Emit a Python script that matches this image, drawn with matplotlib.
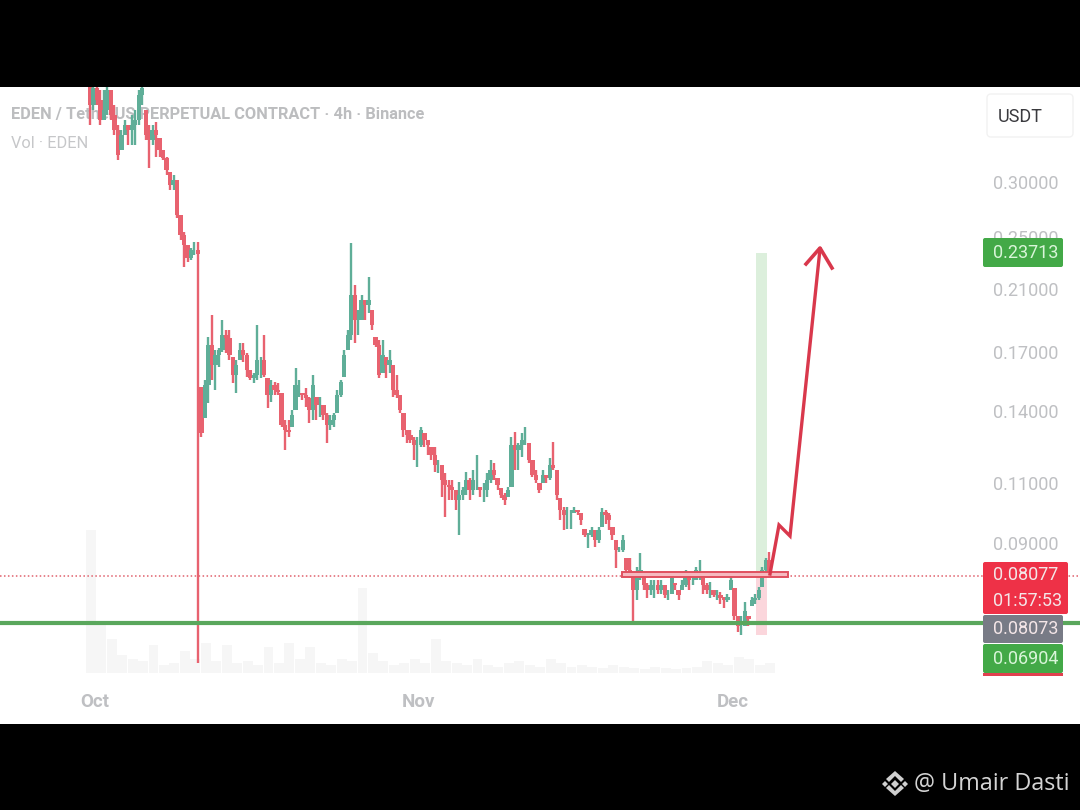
#!/usr/bin/python3

import numpy as np
import matplotlib

matplotlib.use('Agg')

import matplotlib.pyplot as plt
from matplotlib.patches import Rectangle, FancyBboxPatch, Polygon

# 8 hour candles, first candle at day -0.48 (0 = 1 Oct)
highs = [.4145, .4145, .4145, .4077, .4077, .4145, .4077, .3878, .3627, .3567, .3688, .3627, .3751, .3814, .4077, .4145,
         .3814, .3627, .3627, .3664, .3473, .3337, .3260, .3101, .3070, .3020, .2687, .2539, .2431, .2407, .2455, .2455,
         .1514, .1549, .1788, .1925, .1712, .1723, .1893, .1830, .1830, .1672, .1656, .1752, .1752, .1695, .1602, .1586,
         .1861, .1672, .1800, .1560, .1549, .1539, .1534, .1484, .1356, .1356, .1402, .1613, .1549, .1484, .1508, .1464,
         .1575, .1464, .1464, .1425, .1388, .1379, .1388, .1498, .1549, .1712, .1830, .2447, .2127, .1957, .2058, .2023,
         .2185, .1957, .1788, .1770, .1770, .1672, .1712, .1629, .1575, .1474, .1388, .1311, .1311, .1281, .1281, .1325,
         .1298, .1268, .1240, .1240, .1187, .1167, .1136, .1110, .1110, .1074, .1103, .1085, .1140, .1117, .1148, .1207,
         .1085, .1099, .1136, .1187, .1175, .1117, .1081, .1063, .1085, .1281, .1302, .1256, .1298, .1325, .1256, .1187,
         .1148, .1099, .1148, .1129, .1195, .1260, .1148, .1045, .1014, .1014, .1004, .1014, .1004, .0994, .0945, .0930,
         .0949, .0939, .0949, .1011, .1004, .0994, .0949, .0909, .0888, .0924, .0858, .0858, .0814, .0830, .0870, .0814,
         .0787, .0795, .0795, .0795, .0795, .0782, .0769, .0814, .0787, .0769, .0795, .0822, .0809, .0809, .0830, .0850,
         .0801, .0787, .0790, .0769, .0769, .0764, .0751, .0761, .0817, .0774, .0707, .0707, .0739, .0707, .0751, .0761,
         .0777, .0830, .0858, .0873]
lows = [.3627, .3814, .3878, .3627, .3688, .3751, .3688, .3508, .3228, .3337, .3508, .3393, .3393, .3393, .3627, .3878,
        .3450, .3143, .3393, .3260, .3260, .3228, .3070, .2921, .2921, .2660, .2472, .2259, .2296, .2312, .2351, .0604,
        .1281, .1365, .1435, .1549, .1498, .1618, .1701, .1695, .1656, .1534, .1484, .1656, .1645, .1565, .1549, .1534,
        .1549, .1560, .1565, .1411, .1439, .1474, .1474, .1325, .1227, .1281, .1325, .1402, .1464, .1449, .1416, .1342,
        .1356, .1356, .1370, .1356, .1256, .1311, .1325, .1388, .1464, .1565, .1712, .1770, .1752, .1800, .1893, .1893,
        .1938, .1830, .1729, .1560, .1586, .1560, .1586, .1464, .1459, .1388, .1281, .1256, .1256, .1187, .1159, .1240,
        .1240, .1207, .1187, .1140, .1136, .1049, .0981, .1038, .1038, .1004, .0924, .1038, .1056, .1038, .1056, .1074,
        .1049, .1031, .1049, .1099, .1110, .1074, .1045, .1021, .1049, .1085, .1148, .1148, .1199, .1248, .1175, .1121,
        .1099, .1063, .1099, .1099, .1110, .1148, .1038, .0971, .0939, .0945, .0945, .0994, .0988, .0955, .0918, .0885,
        .0918, .0888, .0900, .0949, .0961, .0939, .0909, .0828, .0873, .0873, .0809, .0801, .0691, .0744, .0795, .0769,
        .0749, .0756, .0749, .0761, .0761, .0749, .0744, .0761, .0769, .0744, .0769, .0777, .0769, .0782, .0795, .0795,
        .0761, .0761, .0749, .0751, .0744, .0736, .0726, .0739, .0769, .0696, .0670, .0662, .0684, .0684, .0731, .0736,
        .0744, .0777, .0817, .0809]
closes = [.3878, .4100, .3943, .3688, .3814, .4077, .3751, .3567, .3282, .3508, .3627, .3567, .3627, .3688, .4010, .4100,
          .3508, .3450, .3567, .3508, .3337, .3250, .3122, .2970, .3020, .2687, .2514, .2431, .2327, .2391, .2391, .2360,
          .1300, .1524, .1741, .1629, .1684, .1712, .1800, .1782, .1684, .1575, .1629, .1712, .1684, .1602, .1560, .1575,
          .1656, .1656, .1575, .1474, .1524, .1498, .1488, .1333, .1311, .1302, .1379, .1524, .1524, .1474, .1459, .1402,
          .1524, .1425, .1425, .1379, .1333, .1356, .1379, .1474, .1539, .1684, .1800, .2058, .1893, .1893, .2023, .1990,
          .2023, .1861, .1741, .1575, .1684, .1629, .1656, .1498, .1474, .1402, .1311, .1290, .1268, .1248, .1248, .1311,
          .1268, .1248, .1207, .1167, .1167, .1110, .1092, .1085, .1074, .1038, .1056, .1074, .1110, .1074, .1110, .1110,
          .1074, .1074, .1110, .1148, .1129, .1092, .1056, .1038, .1074, .1248, .1227, .1248, .1268, .1268, .1187, .1129,
          .1110, .1074, .1129, .1117, .1167, .1156, .1056, .1004, .0988, .0988, .0988, .1004, .0997, .0971, .0924, .0924,
          .0939, .0909, .0939, .0997, .0988, .0971, .0924, .0879, .0879, .0909, .0822, .0817, .0769, .0809, .0822, .0782,
          .0769, .0782, .0782, .0769, .0782, .0756, .0756, .0801, .0782, .0756, .0782, .0809, .0795, .0795, .0822, .0822,
          .0782, .0769, .0769, .0756, .0756, .0749, .0744, .0751, .0795, .0707, .0684, .0684, .0719, .0700, .0744, .0749,
          .0769, .0822, .0850, .0808]

# one volume value per day, arbitrary units, very faint in the picture
volume = [143, 48, 34, 18, 14, 12, 28, 8, 10, 22, 14, 30, 12, 28, 10, 12, 8, 26, 10, 30, 14, 26, 10, 8, 14, 12, 85, 20, 12, 8, 10,
          14, 10, 34, 12, 10, 8, 14, 8, 6, 10, 12, 8, 6, 14, 10, 6, 8, 6, 5, 8, 6, 5, 4, 6, 5, 4, 5, 6, 12, 10, 8, 16, 14, 8, 10]

price_ticks = [0.30, 0.25, 0.21, 0.17, 0.14, 0.11, 0.09]
month_names = ['Oct', 'Nov', 'Dec']
month_days = [0, 31, 61]
last_price = 0.08077
support = 0.06904
target = 0.23713
stop = 0.0662
box_start, box_end = 63.25, 64.3

W, H = 1080, 810
TOP, BOTTOM = 87, 724

green = '#5fae98'
red = '#e8626f'
label_grey = '#bfc0c3'

fig = plt.figure(figsize=(W / 100, H / 100), dpi=100, facecolor='black')
rect = [0, 1 - BOTTOM / H, 1, (BOTTOM - TOP) / H]

# volume first, underneath everything, its patch gives the white chart area
vol_ax = fig.add_axes(rect, facecolor='white', zorder=0)
vol_ax.set_ylim(-51, 586)
vol_ax.set_xlim((0 - 95) / 10.45, (W - 95) / 10.45)
vol_ax.bar(np.arange(len(volume)) - 0.4, volume, width=0.95, color='#f6f6f6')
vol_ax.set_xticks([])
vol_ax.set_yticks([])
for s in vol_ax.spines.values():
    s.set_visible(False)

ax = fig.add_axes(rect, facecolor='none', zorder=1)
ax.set_yscale('log')
ax.set_xlim((0 - 95) / 10.45, (W - 95) / 10.45)
ax.set_ylim(0.3 * np.exp(-(BOTTOM - 182) / 300.0), 0.3 * np.exp((182 - TOP) / 300.0))

# overlay in pixel coordinates for the drawing tools and the price flags
ov = fig.add_axes([0, 0, 1, 1], facecolor='none', zorder=2)
ov.set_xlim(0, W)
ov.set_ylim(H, 0)
ov.axis('off')

# long and short zones of the position tool
ax.add_patch(Rectangle((box_start, last_price), box_end - box_start, target - last_price, fc='#dcefdc', ec='none', zorder=1))
ax.add_patch(Rectangle((box_start, stop), box_end - box_start, last_price - stop, fc='#fbd6dc', ec='none', zorder=1))

# header goes under the candles
ax.text(11, 115, 'EDEN / TetherUS PERPETUAL CONTRACT · 4h · Binance', color='#bcbdbf', fontsize=11.8,
        family='Roboto', fontweight='bold', va='center', ha='left', zorder=2, transform=ov.transData)
ax.text(11, 144, 'Vol · EDEN', color='#c6c7c9', fontsize=11.8, family='Roboto',
        va='center', ha='left', zorder=2, transform=ov.transData)

days = -0.48 + np.arange(len(closes)) / 3.0
for i in range(len(closes)):
    op = closes[i - 1] if i > 0 else highs[0]
    col = green if closes[i] >= op else red
    ax.vlines(days[i], lows[i], highs[i], color=col, lw=1.7, zorder=3)
    lo = max(min(op, closes[i]), lows[i])
    hi = min(max(op, closes[i]), highs[i])
    ax.bar(days[i], hi - lo, bottom=lo, width=0.42, color=col, linewidth=0, zorder=3)

ax.axhline(last_price, color='#e0606c', lw=1.1, ls=(0, (1, 1.6)), zorder=2)
ax.axhline(support, color='#5aa75c', lw=3, zorder=4)

ax.yaxis.tick_right()
ax.set_yticks(price_ticks)
ax.set_yticklabels(['%.5f' % p for p in price_ticks])
ax.minorticks_off()
ax.tick_params(axis='y', length=0, pad=-63, labelsize=13, labelcolor=label_grey)
ax.set_xticks(month_days)
ax.set_xticklabels(month_names, fontweight='bold')
ax.tick_params(axis='x', length=0, pad=-22, labelsize=13.5, labelcolor=label_grey)
for lab in ax.get_yticklabels() + ax.get_xticklabels():
    lab.set_fontfamily('Roboto')
for s in ax.spines.values():
    s.set_visible(False)

ov.add_patch(Rectangle((622, 572), 166, 4.5, fc='#f6b9c0', ec='#e0505f', lw=1.4, zorder=5))

arrow_x = [770, 779, 790, 820]
arrow_y = [574, 525, 536, 249]
ov.plot(arrow_x, arrow_y, color='#d9384c', lw=2.4, solid_joinstyle='miter', zorder=6)
ov.plot([806, 820, 832], [264, 248, 268], color='#d9384c', lw=2.6, zorder=6)


def flag(x, y, w, h, col, lines):
    ov.add_patch(FancyBboxPatch((x + 1, y + 1), w - 2, h - 2, boxstyle='round,pad=1,rounding_size=2',
                                fc=col, ec='none', zorder=7))
    step = h / len(lines)
    for n, t in enumerate(lines):
        ov.text(993, y + step * (n + 0.5), t, color='#d9f5d9' if col == '#43a947' else '#f4e6e8',
                fontsize=13, family='Roboto', va='center', ha='left', zorder=8)


flag(983, 238, 80, 29, '#43a947', ['%.5f' % target])
flag(983, 562, 85, 52, '#ee3147', ['%.5f' % last_price, '01:57:53'])
flag(983, 615, 80, 28, '#787b86', ['0.08073'])
flag(983, 644, 80, 29, '#43a947', ['%.5f' % support])
ov.add_patch(Rectangle((983, 673), 80, 2.5, fc='#e0404f', ec='none', zorder=7))

# currency box
ov.add_patch(FancyBboxPatch((988, 95), 84, 41, boxstyle='round,pad=1,rounding_size=4', fc='white', ec='#f2f2f2', lw=1))
ov.text(998, 117, 'USDT', color='#3a3a3e', fontsize=13, family='Roboto', va='center', ha='left')

# watermark
logo = '#cfcfcf'
ov.add_patch(Polygon([(895, 771), (904, 779), (901, 782), (895, 776), (889, 782), (886, 779)], fc=logo, ec='none'))
ov.add_patch(Polygon([(895, 796), (904, 788), (901, 785), (895, 791), (889, 785), (886, 788)], fc=logo, ec='none'))
ov.add_patch(Polygon([(895, 780), (899, 784), (895, 788), (891, 784)], fc=logo, ec='none'))
ov.add_patch(Polygon([(885, 781), (888, 784), (885, 787), (882, 784)], fc=logo, ec='none'))
ov.add_patch(Polygon([(905, 781), (908, 784), (905, 787), (902, 784)], fc=logo, ec='none'))
ov.text(914, 784, '@ Umair Dasti', color='#d4d4d4', fontsize=16.8, family='Open Sans', va='center', ha='left')

plt.savefig('out.png', dpi=100, facecolor='black')
plt.close(fig)
